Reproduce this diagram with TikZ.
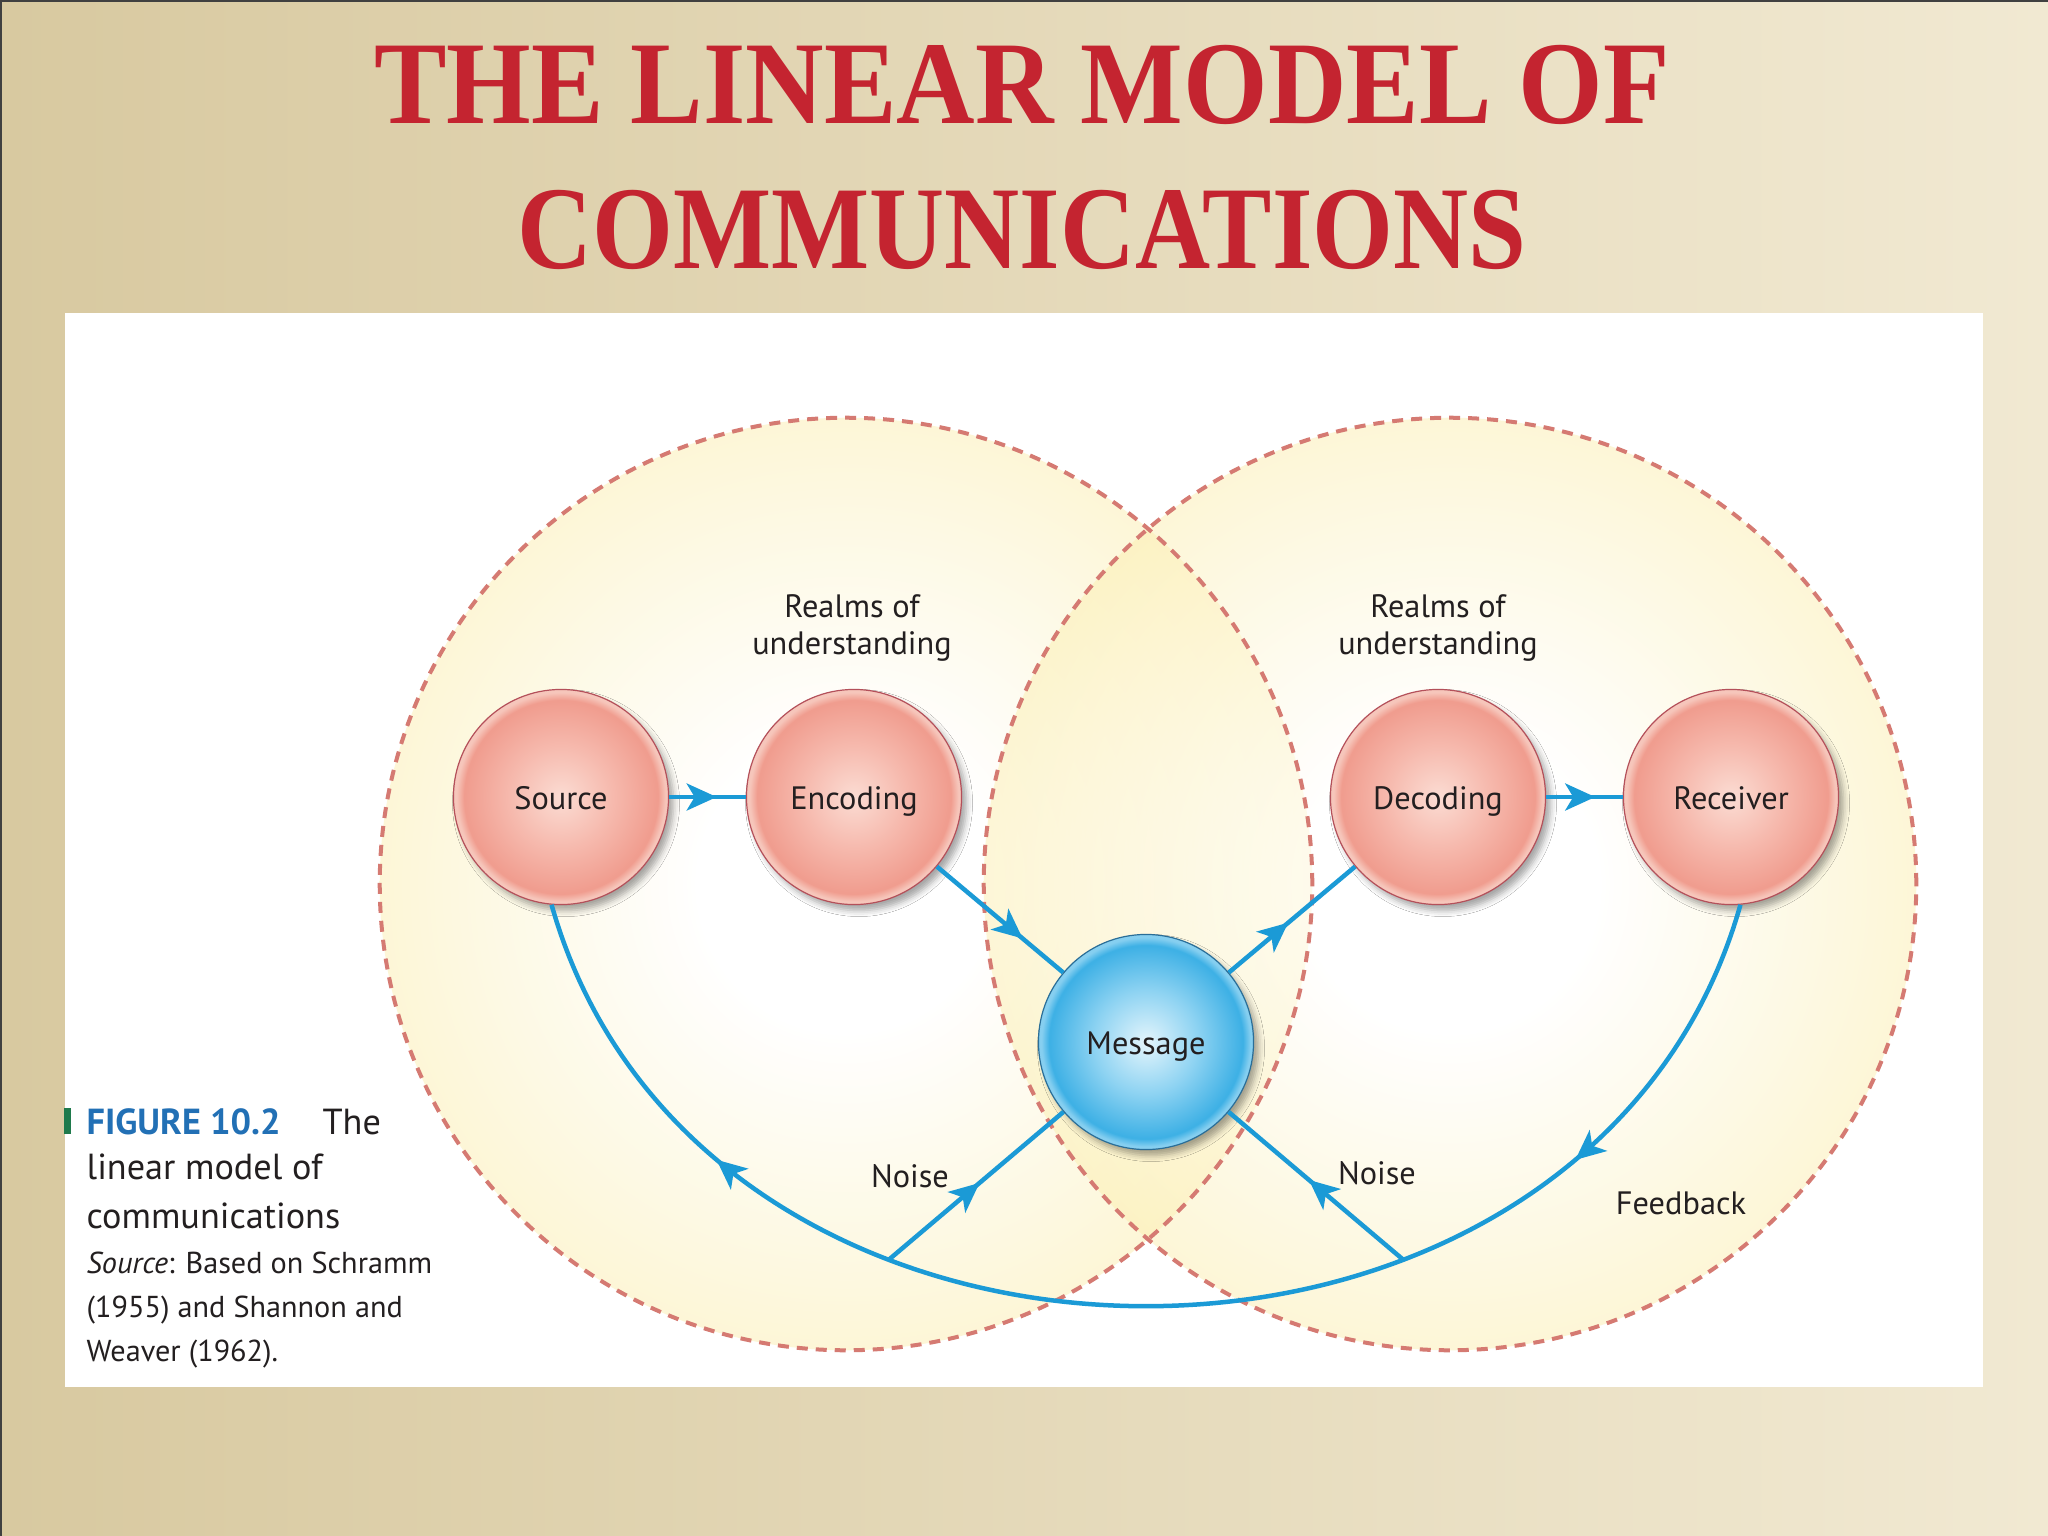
\documentclass[tikz,border=0pt]{standalone}
\usepackage{fontspec}
\setmainfont{PT Sans}
\newfontfamily\titlefont{Liberation Serif}
\usetikzlibrary{arrows.meta,decorations.markings,shadows.blur}
\definecolor{bgL}{HTML}{D8C9A0}
\definecolor{bgR}{HTML}{F1E9D2}
\definecolor{titlered}{HTML}{C42430}
\definecolor{flowblue}{HTML}{1B9AD6}
\definecolor{dashred}{HTML}{D57A72}
\definecolor{yel}{HTML}{FCEFB0}
\definecolor{pkc}{HTML}{FBDCD3}
\definecolor{pkm}{HTML}{F6B9AD}
\definecolor{pke}{HTML}{F09C8E}
\definecolor{pkr}{HTML}{F6C6BB}
\definecolor{pkb}{HTML}{B4505A}
\definecolor{blc}{HTML}{E4F5FC}
\definecolor{blm}{HTML}{8ED3F2}
\definecolor{ble}{HTML}{3DB0E5}
\definecolor{blr}{HTML}{86CFF0}
\definecolor{blb}{HTML}{2A6E98}
\definecolor{txt}{HTML}{231F20}
\definecolor{figblue}{HTML}{2270B5}
\definecolor{tabgreen}{HTML}{1F7A4C}
\pgfdeclareradialshading{pinkball}{\pgfpoint{0bp}{0bp}}{color(0bp)=(pkc); color(12bp)=(pkm); color(22.5bp)=(pke); color(24.3bp)=(pkr); color(25bp)=(pkr); color(50bp)=(pkr)}
\pgfdeclareradialshading{blueball}{\pgfpoint{0bp}{0bp}}{color(0bp)=(blc); color(12bp)=(blm); color(22.5bp)=(ble); color(24.3bp)=(blr); color(25bp)=(blr); color(50bp)=(blr)}
\pgfdeclareradialshading{realm}{\pgfpoint{0bp}{0bp}}{color(0bp)=(white); color(8bp)=(white); color(25bp)=(yel); color(50bp)=(yel)}
\begin{document}
\begin{tikzpicture}[x=0.01cm,y=-0.01cm,
  flow/.style={draw=flowblue,color=flowblue,line width=0.045cm},
  headtip/.tip={Stealth[length=0.3cm,width=0.27cm,inset=0.08cm]},
  tipat/.style={decoration={markings,mark=at position #1 with {\arrow{headtip}}},postaction={decorate}},
  ball/.style={circle,minimum size=2.15cm,inner sep=0pt,shade,text=txt,
    text height=1.45ex,text depth=0pt,
    font=\fontsize{9.2}{11}\selectfont,
    blur shadow={shadow xshift=0.05cm,shadow yshift=-0.06cm,shadow blur radius=0.06cm,shadow opacity=35}},
  pinknode/.style={ball,shading=pinkball,draw=pkb,line width=0.012cm},
  bluenode/.style={ball,shading=blueball,draw=blb,line width=0.012cm},
  lbl/.style={text=txt,font=\fontsize{9.2}{10.6}\selectfont,inner sep=0pt},
  captext/.style={text=txt,anchor=base west,inner sep=0pt,font=\fontsize{10.3}{12}\selectfont},
  capsmall/.style={text=txt,anchor=base west,inner sep=0pt,font=\fontsize{8.6}{10}\selectfont},
  titletext/.style={text=titlered,inner sep=0pt,font=\titlefont\bfseries\fontsize{33.6}{40}\selectfont},
  realmdash/.style={draw=dashred,line width=0.04cm,dash pattern=on 0.11cm off 0.08cm}
]
\useasboundingbox (0,0) rectangle (2048,1536);
% background
\shade[left color=bgL,right color=bgR] (0,0) rectangle (2048,1536);
\draw[line width=0.04cm,black!75] (0,1536) -- (0,0) -- (2048,0);
% title
\node[titletext] (t1) at (1022,85) {\scalebox{0.92}[1]{THE LINEAR MODEL OF}};
\node[titletext] (t2) at (1022,230) {\scalebox{0.88}[1]{COMMUNICATIONS}};
% panel
\fill[white] (65,313) rectangle (1983,1387);
% realms of understanding
\begin{scope}[fill opacity=0.5]
\shade[shading=realm] (846,884) circle[radius=4.66cm];
\shade[shading=realm] (1450,884) circle[radius=4.66cm];
\end{scope}
\draw[realmdash] (846,884) circle[radius=4.66cm];
\draw[realmdash] (1450,884) circle[radius=4.66cm];
% labels
\node[lbl,align=center] (r1) at (852,628) {Realms of\\understanding};
\node[lbl,align=center] (r2) at (1438,628) {Realms of\\understanding};
% nodes
\node[pinknode] (src) at (561,797) {Source};
\node[pinknode] (enc) at (854,797) {Encoding};
\node[pinknode] (dec) at (1438,797) {Decoding};
\node[pinknode] (rcv) at (1731,797) {Receiver};
\node[bluenode] (msg) at (1146,1042) {Message};
% connectors
\draw[flow,tipat=0.62] (src) -- (enc);
\draw[flow,tipat=0.68] (enc) -- (msg);
\draw[flow,tipat=0.47] (msg) -- (dec);
\draw[flow,tipat=0.64] (dec) -- (rcv);
\draw[flow,decoration={markings,
    mark=at position 0.2 with {\arrow{headtip}},
    mark=at position 0.8 with {\arrow{headtip}}},postaction={decorate}]
  (rcv.-85) .. controls (1589,1440) and (703,1440) .. (src.-95)
  coordinate[pos=0.33] (nr) coordinate[pos=0.67] (nl);
\draw[flow,tipat=0.52] (nl) -- (msg);
\draw[flow,tipat=0.54] (nr) -- (msg);
\node[lbl] (n1) at (910,1176) {Noise};
\node[lbl] (n2) at (1377,1173) {Noise};
\node[lbl] (fb) at (1681,1203) {Feedback};
% caption
\fill[tabgreen] (64,1108) rectangle (71,1134);
\node[captext] (c1) at (86,1134) {\textcolor{figblue}{\bfseries FIGURE 10.2}\hspace{0.42cm}The};
\node[captext] (c2) at (86,1179) {linear model of};
\node[captext] (c3) at (86,1228) {communications};
\node[capsmall] (c4) at (86,1273) {\textit{Source}: Based on Schramm};
\node[capsmall] (c5) at (86,1317) {(1955) and Shannon and};
\node[capsmall] (c6) at (86,1361) {Weaver (1962).};
\end{tikzpicture}
\end{document}
